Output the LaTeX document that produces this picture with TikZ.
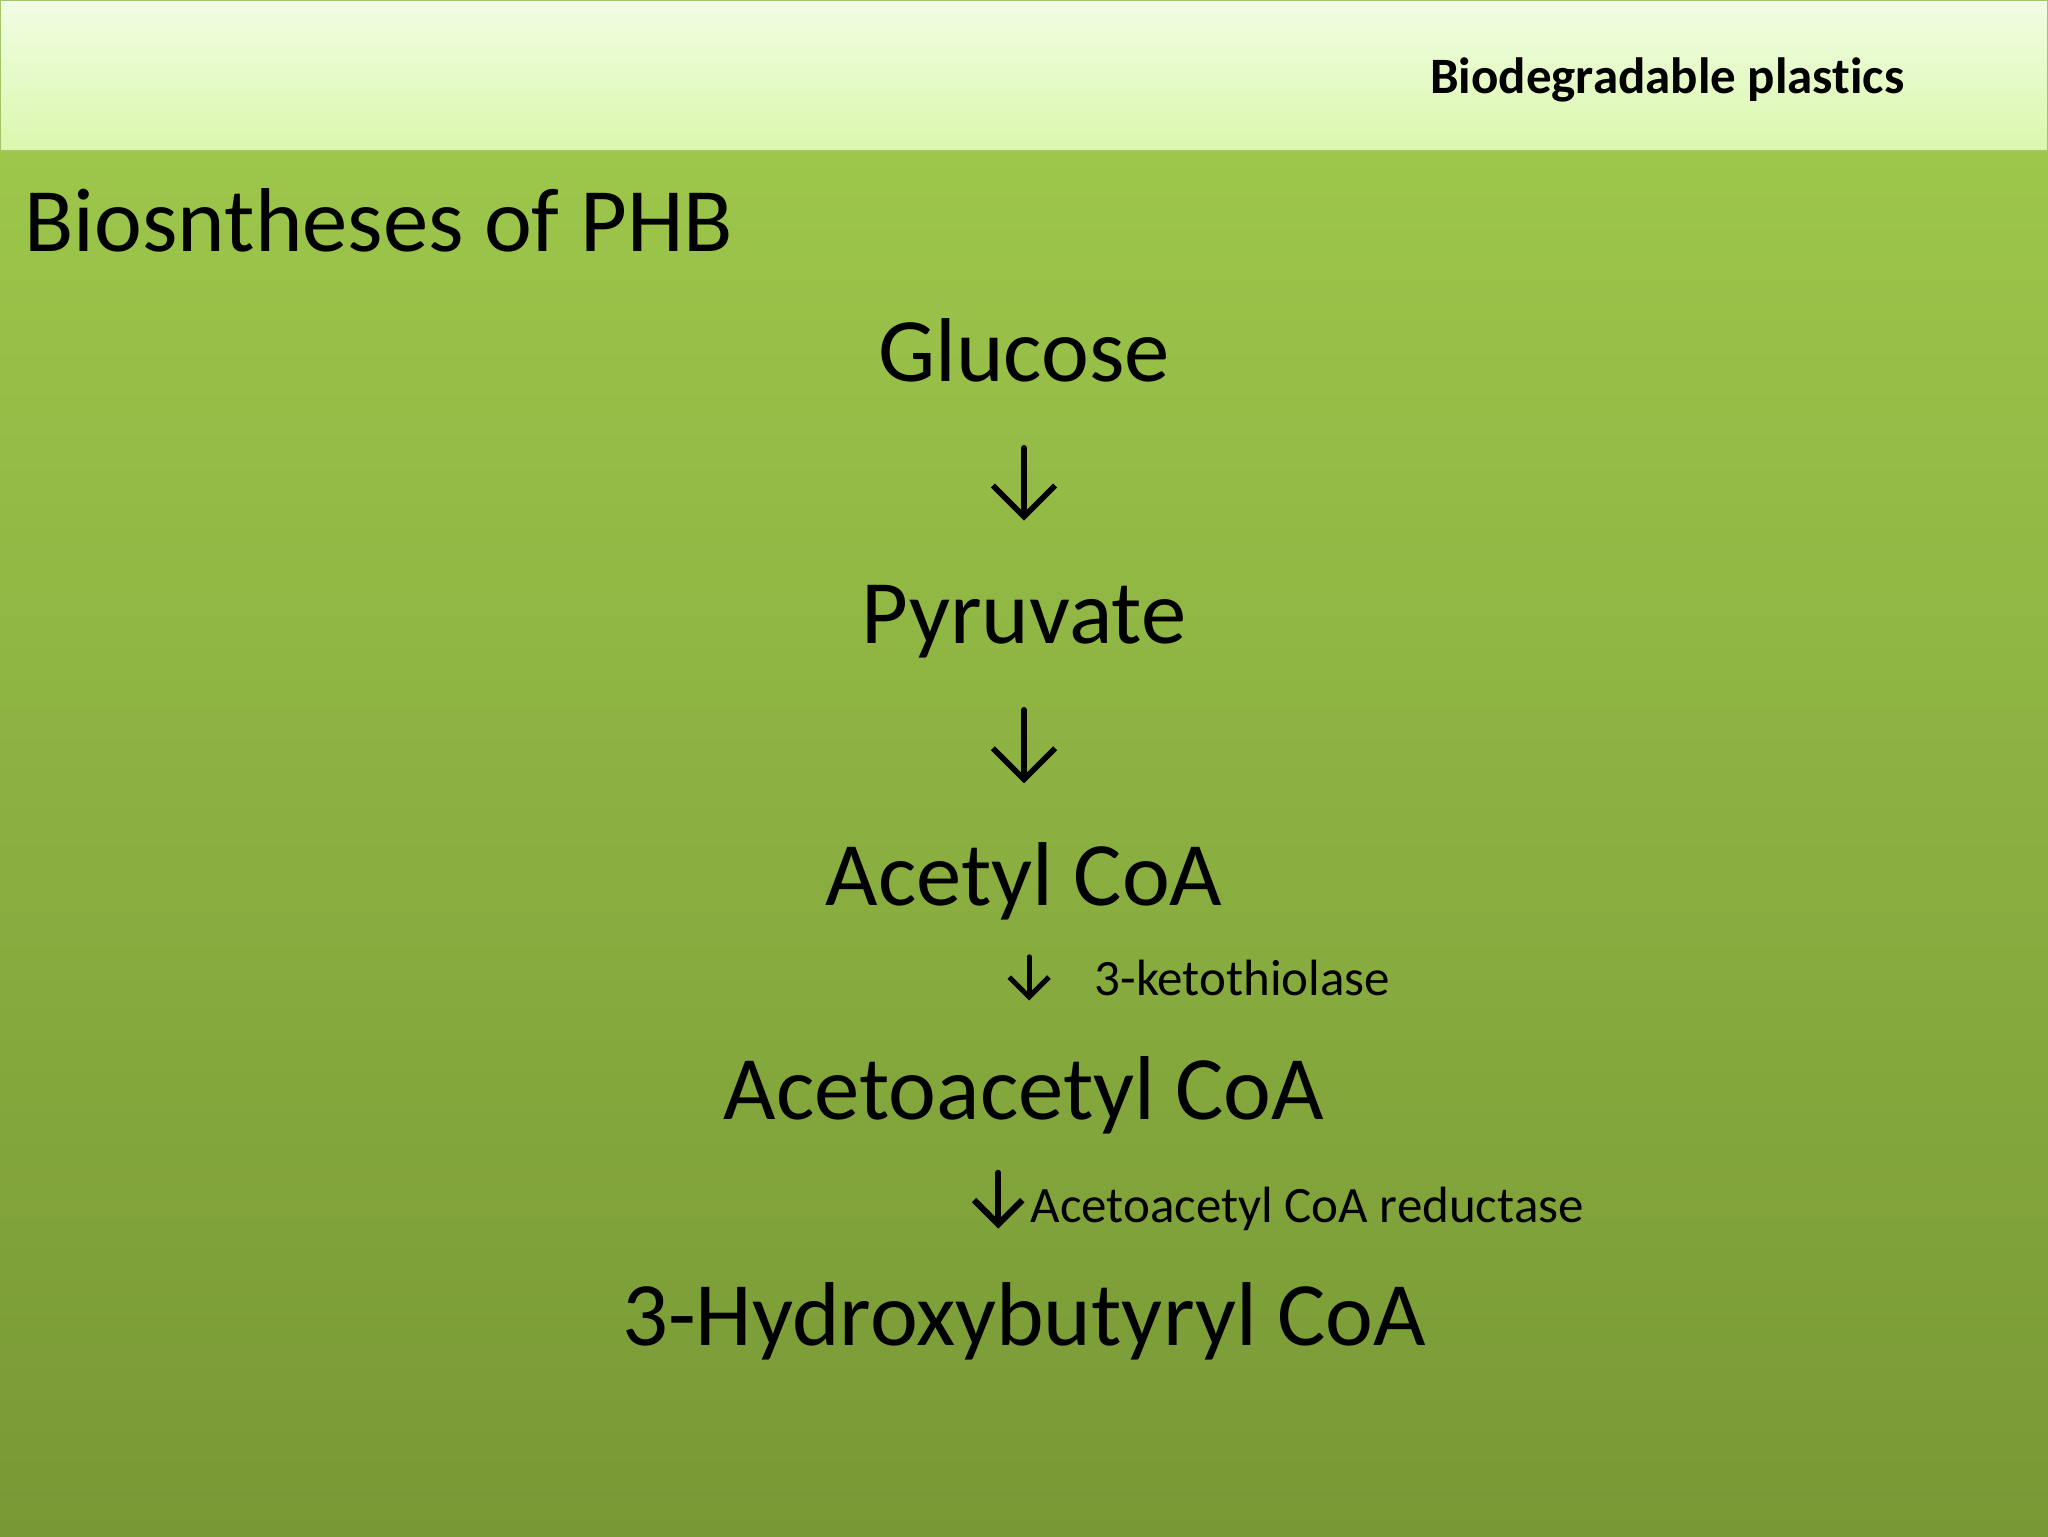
\documentclass[tikz,border=0pt]{standalone}
\usepackage{fontspec}
\setmainfont{Carlito}[Ligatures = {NoCommon, NoContextual}]
\usepackage{tikz}
\usetikzlibrary{arrows.meta}
\definecolor{bgtop}{HTML}{9DC64B}
\definecolor{bgbot}{HTML}{789835}
\definecolor{hdtop}{HTML}{F1FDE3}
\definecolor{hdbot}{HTML}{DBF7AD}
\definecolor{hdline}{HTML}{A3C466}

\begin{document}
\begin{tikzpicture}[x = 0.0124cm, y = -0.0124cm]
% Node styles ---
\tikzstyle{mol} = [inner sep = 0pt, anchor = base, font = \fontsize{32}{38}\selectfont] % Molecules
\tikzstyle{enz} = [inner sep = 0pt, anchor = base west, font = \fontsize{18}{22}\selectfont] % Enzymes
\tikzstyle{ttl} = [inner sep = 0pt, anchor = base west, font = \fontsize{32}{38}\selectfont] % Slide title
\tikzstyle{hdr} = [inner sep = 0pt, anchor = base east, font = \fontsize{18}{22}\selectfont\bfseries] % Header
% Edge styles
\tikzstyle{con} = [-{Straight Barb[length = 11pt, width = 22pt]}, line width = 2pt, line cap = round] % Main steps
\tikzstyle{cons} = [-{Straight Barb[length = 7pt, width = 14pt]}, line width = 1.8pt, line cap = round] % Enzyme steps
\tikzstyle{conb} = [-{Straight Barb[length = 8.5pt, width = 17pt]}, line width = 2.2pt, line cap = round] % Bold enzyme step
% Background ---
\useasboundingbox (0,0) rectangle (2048,1536);
\shade [top color = bgtop, bottom color = bgbot] (0,151) rectangle (2048,1536);
\shadedraw [top color = hdtop, bottom color = hdbot, draw = hdline, line width = 1pt] (0,0) rectangle (2048,151);
% Nodes
\node at (24,251) [ttl] (title) {Biosntheses of PHB};
\node at (1905,94) [hdr] (header) {Biodegradable plastics};
\node at (1024,381) [mol] (glucose) {Glucose};
\node at (1024,643) [mol] (pyruvate) {Pyruvate};
\node at (1024,905) [mol] (acetyl) {Acetyl CoA};
\node at (1024,1119) [mol] (acetoacetyl) {Acetoacetyl CoA};
\node at (1024,1345) [mol] (hydroxy) {3-Hydroxybutyryl CoA};
\node at (1094,995) [enz] (thiolase) {3-ketothiolase};
\node at (1030,1222) [enz] (reductase) {Acetoacetyl CoA reductase};
% Paths
\path (glucose.base) edge [con, shorten <= 23.6pt, shorten >= 43.2pt] (pyruvate.base);
\path (pyruvate.base) edge [con, shorten <= 23.6pt, shorten >= 42.9pt] (acetyl.base);
\path ([xshift = 1.8pt]acetyl.base) edge [cons, shorten <= 18.3pt, shorten >= 41.8pt] ([xshift = 1.8pt]acetoacetyl.base);
\path ([xshift = -9.1pt]acetoacetyl.base) edge [conb, shorten <= 19pt, shorten >= 41.1pt] ([xshift = -9.1pt]hydroxy.base);
\end{tikzpicture}
\end{document}
